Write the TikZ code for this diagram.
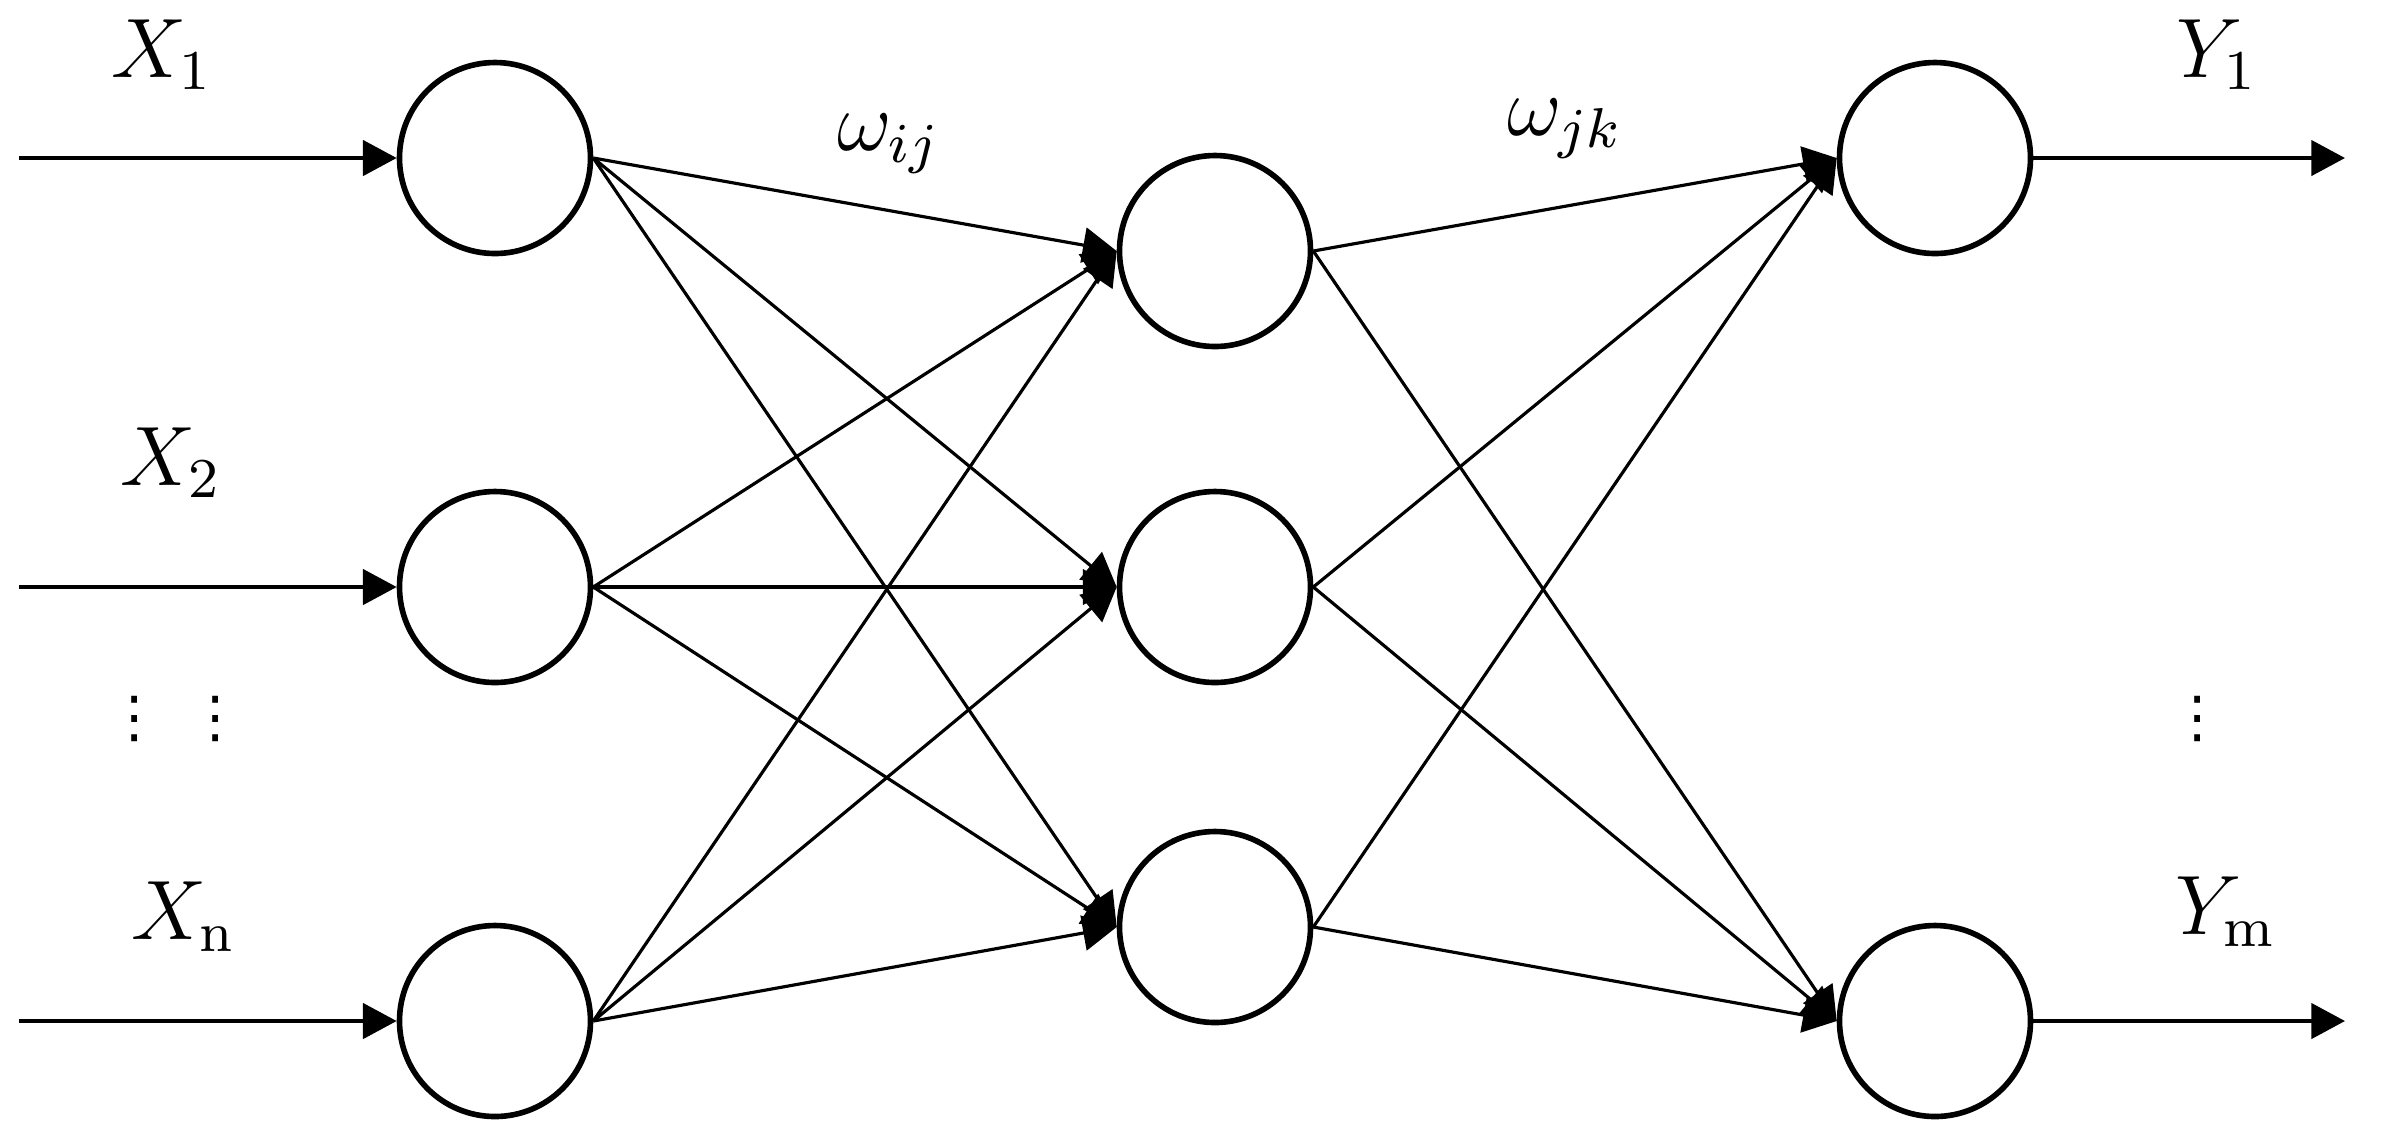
\documentclass[tikz,border=0pt]{standalone}
\usepackage[no-math]{fontspec}
\newfontfamily\symfont{DejaVu Sans}
\usetikzlibrary{arrows.meta}
\tikzset{
  neuron/.style={draw,circle,line width=0.8pt,minimum size=0.955cm,inner sep=0pt},
  wire/.style={-{Triangle[length=4.8pt,width=5pt]},line width=0.45pt},
  io/.style={-{Triangle[length=4.8pt,width=5pt]},line width=0.6pt},
  lbl/.style={inner sep=0pt,anchor=base west,font=\fontsize{11.5pt}{14pt}\selectfont},
  dots/.style={inner sep=0pt,anchor=base,font=\symfont\fontsize{8pt}{9pt}\selectfont}
}
\begin{document}
\begin{tikzpicture}
            \useasboundingbox (0,0) rectangle (11.92,5.615);
            \def\xin{2.475} \def\xhid{6.075} \def\xout{9.675} \def\xl{0.095} \def\xr{11.725}
            \foreach \y [count=\i] in {4.825,2.68,0.51} {
                \node [neuron] (in\i) at (\xin,\y) {};
                \coordinate (src\i) at (\xl,\y);
            }
            \foreach \y [count=\j] in {4.36,2.68,0.98} \node [neuron] (hid\j) at (\xhid,\y) {};
            \foreach \y [count=\k] in {4.825,0.51} {
                \node [neuron] (out\k) at (\xout,\y) {};
                \coordinate (dst\k) at (\xr,\y);
            }
            \foreach \i in {1,2,3} \draw [io] (src\i) -- (in\i.west);
            \foreach \k in {1,2} \draw [io] (out\k.east) -- (dst\k);
            \foreach \i in {1,2,3} \foreach \j in {1,2,3} \draw [wire] (in\i.east) -- (hid\j.west);
            \foreach \j in {1,2,3} \foreach \k in {1,2} \draw [wire] (hid\j.east) -- (out\k.west);
            %\draw [help lines] (0,0) grid (12,6);
            \node [lbl] (x1) at (0.55,5.23) {$X_1$};
            \node [lbl] (x2) at (0.595,3.19) {$X_2$};
            \node [lbl] (xn) at (0.65,0.92) {$X_{\mathrm{n}}$};
            \node [lbl] (y1) at (10.875,5.23) {$Y_1$};
            \node [lbl] (ym) at (10.87,0.945) {$Y_{\mathrm{m}}$};
            \node [lbl] (wij) at (4.18,4.865) {$\omega_{ij}$};
            \node [lbl] (wjk) at (7.53,4.94) {$\omega_{jk}$};
            \node [dots] (d1) at (0.675,1.935) {⋮};
            \node [dots] (d2) at (1.08,1.935) {⋮};
            \node [dots] (d3) at (10.99,1.935) {⋮};
        \end{tikzpicture}
\end{document}
